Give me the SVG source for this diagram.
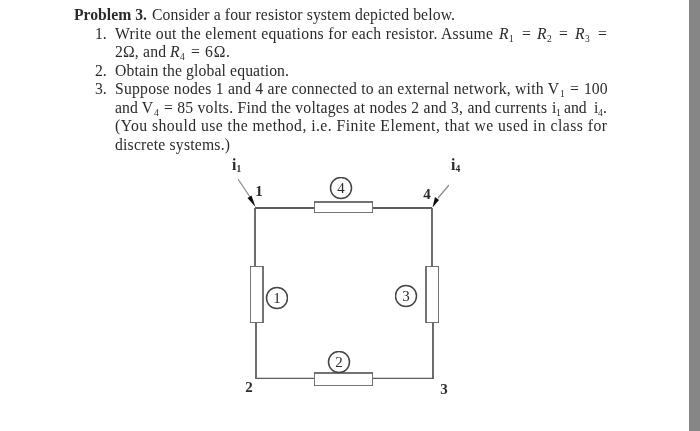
<svg xmlns="http://www.w3.org/2000/svg" width="700" height="431" viewBox="0 0 700 431">
<style>
text{font-family:"Liberation Serif","Times New Roman",serif;font-size:15.7px;fill:#2b2b2b}
.b{font-weight:bold}
.i{font-style:italic}
.s{font-size:9.5px}
.w{stroke:#5c5c5c;stroke-width:1.8;fill:none}
.r{stroke:#5c5c5c;stroke-width:1.7;fill:#fff}
.c{stroke:#444;stroke-width:1.5;fill:none}
.n{font-size:15px;text-anchor:middle}
.a{stroke:#888;stroke-width:1.2;fill:none}
.h{fill:#111}
</style>
<defs><filter id="soft" x="0" y="0" width="100%" height="100%"><feGaussianBlur stdDeviation="0.35"/></filter></defs>
<rect width="700" height="431" fill="#fff"/>
<rect x="689" y="0" width="11" height="431" fill="#868686"/>
<g id="problem-text" filter="url(#soft)">
<text x="74" y="20" class="b">Problem 3.</text>
<text x="152" y="20" textLength="303">Consider a four resistor system depicted below.</text>
<text x="95" y="39">1.</text>
<text x="115" y="39" textLength="378">Write out the element equations for each resistor. Assume</text>
<text x="499" y="39" class="i">R</text><text x="509" y="42" class="s">1</text>
<text x="522" y="39">=</text>
<text x="537" y="39" class="i">R</text><text x="547" y="42" class="s">2</text>
<text x="559" y="39">=</text>
<text x="575" y="39" class="i">R</text><text x="585" y="42" class="s">3</text>
<text x="598" y="39">=</text>
<text x="115" y="57" textLength="51">2Ω, and</text>
<text x="170" y="57" class="i">R</text><text x="180" y="60" class="s">4</text>
<text x="191" y="57">=</text>
<text x="205" y="57" textLength="25">6Ω.</text>
<text x="95" y="76">2.</text>
<text x="115" y="76" textLength="174">Obtain the global equation.</text>
<text x="95" y="94">3.</text>
<text x="115" y="94" textLength="444">Suppose nodes 1 and 4 are connected to an external network, with V</text>
<text x="560" y="97" class="s">1</text>
<text x="570" y="94">=</text>
<text x="584" y="94">100</text>
<text x="115" y="113" textLength="38">and V</text><text x="154" y="116" class="s">4</text>
<text x="164" y="113" textLength="383">= 85 volts. Find the voltages at nodes 2 and 3, and currents</text>
<text x="552" y="113">i</text><text x="556" y="116" class="s">1</text>
<text x="564" y="113">and</text>
<text x="594" y="113">i</text><text x="598" y="116" class="s">4</text>
<text x="603" y="113">.</text>
<text x="115" y="131" textLength="492">(You should use the method, i.e. Finite Element, that we used in class for</text>
<text x="115" y="150" textLength="115">discrete systems.)</text>
</g>
<g id="connectors" filter="url(#soft)">
<path class="w" d="M255 208H314M373 208H432"/>
<path class="w" d="M255 208V266M256 323V379"/>
<path class="w" d="M432 208V266M433 323V379"/>
<path class="w" d="M257 378.600H314M373 378.600H433"/>
<path class="a" d="M238 179L250 197"/>
<polygon class="h" points="247.500,198 251.500,195.500 255.500,207"/>
<path class="a" d="M449 185L438 198"/>
<polygon class="h" points="435,197 439,200 432.500,207.500"/>
</g>
<g id="node-r4" filter="url(#soft)"><rect class="r" x="314" y="202" width="59" height="11"/><circle class="c" cx="341" cy="188" r="10.5"/><text class="n" x="341" y="193">4</text></g>
<g id="node-r1" filter="url(#soft)"><rect class="r" x="250" y="266" width="13" height="57"/><circle class="c" cx="277" cy="298" r="10.5"/><text class="n" x="277" y="303">1</text></g>
<g id="node-r3" filter="url(#soft)"><rect class="r" x="426" y="266" width="13" height="57"/><circle class="c" cx="406" cy="296" r="10.5"/><text class="n" x="406" y="301">3</text></g>
<g id="node-r2" filter="url(#soft)"><rect class="r" x="314" y="373" width="59" height="13"/><circle class="c" cx="339" cy="362" r="10.5"/><text class="n" x="339" y="367">2</text></g>
<g id="node-1" filter="url(#soft)"><text class="n b" x="259" y="196">1</text></g>
<g id="node-4" filter="url(#soft)"><text class="n b" x="427" y="199">4</text></g>
<g id="node-2" filter="url(#soft)"><text class="n b" x="249" y="392">2</text></g>
<g id="node-3" filter="url(#soft)"><text class="n b" x="444" y="394">3</text></g>
<g id="current-1" filter="url(#soft)"><text class="b" x="232" y="170">i</text><text class="s b" x="236.500" y="172">1</text></g>
<g id="current-4" filter="url(#soft)"><text class="b" x="451" y="170">i</text><text class="s b" x="455.500" y="172">4</text></g>
</svg>
